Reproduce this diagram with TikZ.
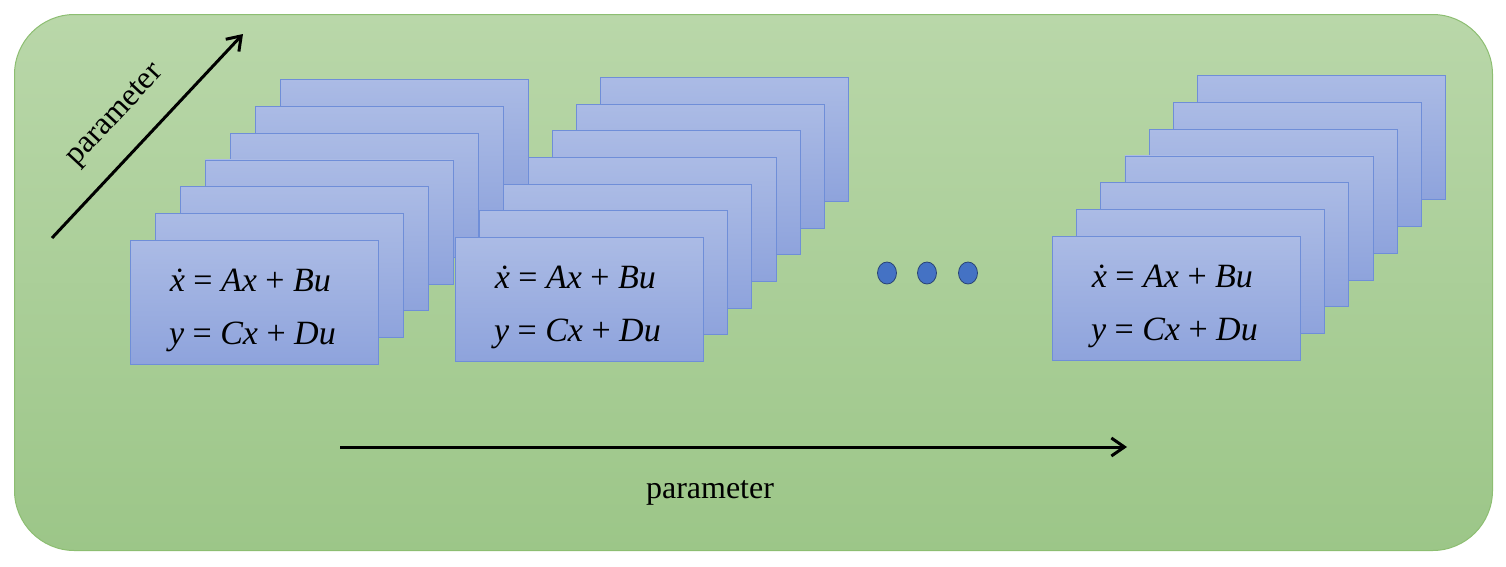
\documentclass[tikz,border=0pt]{standalone}
\usepackage{fontspec}
\setmainfont{Liberation Serif}
\usetikzlibrary{arrows.meta,shapes.geometric}
\definecolor{gtop}{HTML}{B9D7A9}
\definecolor{gbot}{HTML}{9CC688}
\definecolor{gline}{HTML}{8DBE72}
\definecolor{btop}{HTML}{ABBBE5}
\definecolor{bbot}{HTML}{8EA3DC}
\definecolor{bline}{HTML}{6F8ED8}
\definecolor{dotc}{HTML}{4472C4}
\tikzset{
  card/.style={draw=bline, line width=0.8pt, top color=btop, bottom color=bbot, minimum width=248pt, minimum height=124pt, anchor=north west, inner sep=0pt},
  eq/.style={font=\fontsize{34}{40}\selectfont\itshape, align=center},
  lbl/.style={font=\fontsize{32}{38}\selectfont},
  arr/.style={-{Straight Barb[length=13pt,width=18pt]}, line width=3pt},
  dotn/.style={ellipse, draw=dotc!60!black, line width=0.8pt, fill=dotc, minimum width=19pt, minimum height=22pt, inner sep=0pt}
}
\begin{document}
\begin{tikzpicture}[x=1pt,y=-1pt]
\useasboundingbox (0,0) rectangle (1506,566);
\node[draw=gline, line width=1pt, top color=gtop, bottom color=gbot, rounded corners=60pt, minimum width=1478pt, minimum height=536pt, anchor=north west, inner sep=0pt] (bg) at (14,14) {};
\foreach \sx/\sy/\ex/\ey/\nm in {130/240/280/79/a, 455/237/600/77/b, 1052/236/1197/75/c}{
  \foreach \i in {6,5,...,0}{
    \pgfmathsetmacro{\px}{\sx+(\ex-\sx)*\i/6}
    \pgfmathsetmacro{\py}{\sy+(\ey-\sy)*\i/6}
    \node[card] (\nm\i) at (\px,\py) {};
  }
  \node[eq] (\nm eq1) at ([xshift=-4pt,yshift=22pt]\nm0.center) {\.{x} \upshape= \itshape Ax \upshape+ \itshape Bu};
  \node[eq] (\nm eq2) at ([xshift=-2pt,yshift=-35pt]\nm0.center) {y \upshape= \itshape Cx \upshape+ \itshape Du};
}
\node[dotn] (d1) at (887,273) {};
\node[dotn] (d2) at (927,273) {};
\node[dotn] (d3) at (968,273) {};
\coordinate (h1) at (340,447);
\coordinate (h2) at (1127,447);
\draw[arr] (h1) -- (h2);
\node[lbl] (hl) at (710,493) {parameter};
\coordinate (v1) at (52,238);
\coordinate (v2) at (243,34);
\draw[arr] (v1) -- (v2);
\node[lbl, rotate=47] (vl) at (116,116) {parameter};
\end{tikzpicture}
\end{document}
